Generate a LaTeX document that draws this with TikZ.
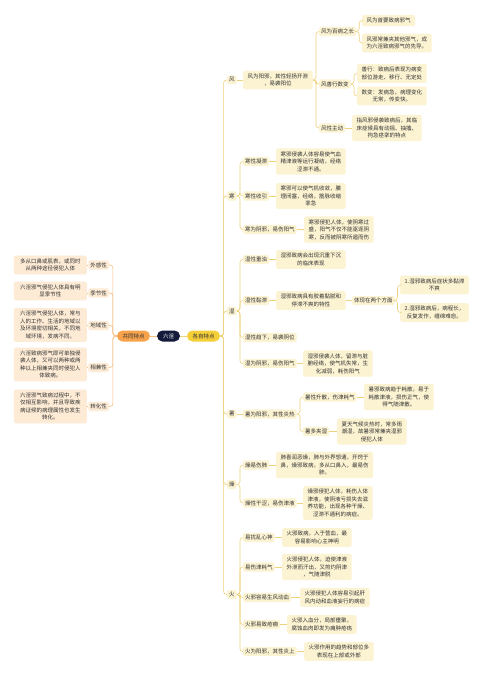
\documentclass[tikz,border=0pt]{standalone}
\usepackage{fontspec}
\setmainfont{Noto Sans CJK SC}
\usetikzlibrary{calc}
\definecolor{boxY}{HTML}{FCF3D2}
\definecolor{boxO}{HTML}{FDEBD5}
\definecolor{lineY}{HTML}{EFD27C}
\definecolor{lineO}{HTML}{F3BF82}
\definecolor{txt}{HTML}{333333}
\definecolor{orgF}{HTML}{F7A34B}
\definecolor{yelF}{HTML}{F5CF3A}
\definecolor{navF}{HTML}{131A3A}
\newcommand\fs{\fontsize{5.5}{7.5}\selectfont}
\tikzset{
  tb/.style={fill=boxY, rounded corners=1.5pt, inner xsep=4.5pt, inner ysep=3pt, align=center, font=\fs, text=txt, anchor=west},
  lb/.style={fill=boxY, rounded corners=1.5pt, inner xsep=2pt, inner ysep=2pt, font=\fs, text=txt, anchor=west},
  catb/.style={fill=boxY, rounded corners=1.5pt, inner sep=2pt, font=\fs, text=txt, anchor=west},
  ltb/.style={fill=boxO, rounded corners=1.5pt, inner xsep=3.5pt, inner ysep=3pt, align=center, font=\fs, text=txt, anchor=east, minimum width=73pt},
  llb/.style={fill=boxO, rounded corners=1.5pt, inner xsep=2pt, inner ysep=2pt, font=\fs, text=txt, anchor=east},
  pill/.style={rounded corners=5.5pt, minimum height=11pt, inner xsep=2pt, inner ysep=1pt, font=\fs},
  rl/.style={draw=lineY, line width=0.6pt, rounded corners=3pt},
  ol/.style={draw=lineO, line width=0.6pt, rounded corners=3pt},
}
\newcommand\tr[2]{\draw[rl] (#1.east) -- ($(#1.east)!0.5!(#1.east -| #2.west)$) |- (#2.west);}
\newcommand\sg[2]{\draw[rl] (#1.east) -- (#1.east -| #2.west);}
\newcommand\ltr[2]{\draw[ol] (#1.west) -- ($(#1.west)!0.5!(#1.west -| #2.east)$) |- (#2.east);}
\newcommand\lsg[2]{\draw[ol] (#1.west) -- (#1.west -| #2.east);}
\begin{document}
\begin{tikzpicture}[x=1pt,y=-1pt]
\useasboundingbox[fill=white] (0,0) rectangle (483,675);

% center
\node[pill, fill=orgF, text=txt, minimum width=33pt] (gt) at (133.5,336) {共同特点};
\node[pill, fill=navF, text=white, minimum width=23pt] (ly) at (168.5,336) {六淫};
\node[pill, fill=yelF, text=txt, minimum width=33pt] (gz) at (203.5,336) {各自特点};
\draw[ol] (ly.west) -- (gt.east);
\draw[rl] (ly.east) -- (gz.west);

% left side
\node[llb] (L1) at (109,265) {外感性};
\node[llb] (L2) at (109,293) {季节性};
\node[llb] (L3) at (109,325.5) {地域性};
\node[llb] (L4) at (109,367.5) {相兼性};
\node[llb] (L5) at (109,406.5) {转化性};
\node[ltb] (B1) at (87,265) {多从口鼻或肌表，或同时\\从两种途径侵犯人体};
\node[ltb] (B2) at (87,291) {六淫邪气侵犯人体具有明\\显季节性};
\node[ltb] (B3) at (87,325) {六淫邪气侵犯人体，常与\\人的工作、生活的地域以\\及环境密切相关，不同地\\域环境，发病不同。};
\node[ltb] (B4) at (87,364.5) {六淫致病邪气即可单独侵\\袭人体，又可以两种或两\\种以上相兼夹同时侵犯人\\体致病。};
\node[ltb] (B5) at (87,406.5) {六淫邪气致病过程中，不\\仅相互影响，并且导致疾\\病证候的病理属性也发生\\转化。};
\foreach \i in {1,...,5}{\ltr{gt}{L\i} \lsg{L\i}{B\i}}

% categories
\node[catb] (feng) at (227,80) {风};
\node[catb] (han) at (227,196) {寒};
\node[catb] (shi) at (227,311) {湿};
\node[catb] (shu) at (227,414) {暑};
\node[catb] (zao) at (227,484.5) {燥};
\node[catb] (huo) at (227,594.5) {火};
\foreach \c in {feng,han,shi,shu,zao,huo}{\tr{gz}{\c}}

% wind
\node[tb] (fA) at (243,80) {风为阳邪，其性轻扬开泄\\，易袭阳位};
\sg{feng}{fA}
\node[lb] (fA1) at (319,31.5) {风为百病之长};
\node[tb] (fA1a) at (362,20.5) {风为首要致病邪气};
\node[tb] (fA1b) at (362,43) {风邪常兼夹其他邪气，成\\为六淫致病邪气的先导。};
\node[lb] (fA2) at (319,84) {风善行数变};
\node[tb] (fA2a) at (357,73.5) {善行：致病后表现为病变\\部位游走、移行、无定处};
\node[tb] (fA2b) at (357,96) {数变：发病急，病理变化\\无常，传变快。};
\node[lb] (fA3) at (319,128) {风性主动};
\node[tb] (fA3a) at (352,128) {指风邪侵袭致病后，其临\\床症候具有动摇、抽搐、\\拘急痉挛的特点};
\tr{fA}{fA1} \tr{fA}{fA2} \tr{fA}{fA3}
\tr{fA1}{fA1a} \tr{fA1}{fA1b}
\tr{fA2}{fA2a} \tr{fA2}{fA2b}
\sg{fA3}{fA3a}

% cold
\node[lb] (hA) at (243,161.5) {寒性凝滞};
\node[tb] (hAa) at (276,161.5) {寒邪侵袭人体容易使气血\\精津液等运行凝结，经络\\涩滞不通。};
\node[lb] (hB) at (243,196) {寒性收引};
\node[tb] (hBa) at (276,196) {寒邪可以使气机收敛，腠\\理闭塞，经络，筋脉收缩\\挛急};
\node[lb] (hC) at (243,229.5) {寒为阴邪，易伤阳气};
\node[tb] (hCa) at (304,229.5) {寒邪侵犯人体，使阴寒过\\盛，阳气不仅不能驱逐阴\\寒，反而被阴寒所遏而伤};
\tr{han}{hA} \tr{han}{hB} \tr{han}{hC}
\sg{hA}{hAa} \sg{hB}{hBa} \sg{hC}{hCa}

% damp
\node[lb] (sA) at (243,259.5) {湿性重浊};
\node[tb] (sAa) at (276,259.5) {湿邪致病会出现沉重下沉\\的临床表现};
\node[lb] (sB) at (243,300.5) {湿性黏滞};
\node[tb] (sBa) at (276,300.5) {湿邪致病具有胶着黏腻和\\停滞不爽的特性};
\node[lb] (sBb) at (352,300.5) {体现在两个方面};
\node[tb] (sB1) at (400,285) {1.湿邪致病后症状多黏滞\\不爽};
\node[tb] (sB2) at (400,312.5) {2.湿邪致病后，病程长，\\反复发作，缠绵难愈。};
\node[lb] (sC) at (243,337.5) {湿性趋下，易袭阴位};
\node[lb] (sD) at (243,363.5) {湿为阴邪，易伤阳气};
\node[tb] (sDa) at (303,363.5) {湿邪侵袭人体，留滞与脏\\腑经络，使气机失常，生\\化减弱，耗伤阳气};
\tr{shi}{sA} \tr{shi}{sB} \tr{shi}{sC} \tr{shi}{sD}
\sg{sA}{sAa} \sg{sB}{sBa} \sg{sBa}{sBb}
\tr{sBb}{sB1} \tr{sBb}{sB2}
\sg{sD}{sDa}

% summer heat
\node[lb] (uA) at (243,414) {暑为阳邪，其性炎热};
\node[lb] (uA1) at (303,397) {暑性升散，伤津耗气};
\node[tb] (uA1a) at (364,397) {暑邪致病趋于耗散，易于\\耗散津液，损伤正气，使\\得气随津散。};
\node[lb] (uA2) at (303,431.5) {暑多夹湿};
\node[tb] (uA2a) at (337,431.5) {夏天气候炎热时，常多雨\\潮湿，故暑邪常兼夹湿邪\\侵犯人体};
\sg{shu}{uA}
\tr{uA}{uA1} \tr{uA}{uA2}
\sg{uA1}{uA1a} \sg{uA2}{uA2a}

% dryness
\node[lb] (zA) at (243,465) {燥易伤肺};
\node[tb] (zAa) at (276,465) {肺喜润恶燥，肺与外界想通，开窍于\\鼻，燥邪致病，多从口鼻入，最易伤\\肺。};
\node[lb] (zB) at (243,503) {燥性干涩，易伤津液};
\node[tb] (zBa) at (303,503) {燥邪侵犯人体，耗伤人体\\津液，使阴液亏损失去滋\\养功能，出现各种干燥、\\涩滞不通利的病症。};
\tr{zao}{zA} \tr{zao}{zB}
\sg{zA}{zAa} \sg{zB}{zBa}

% fire
\node[lb] (oA) at (243,537.5) {易扰乱心神};
\node[tb] (oAa) at (282,537.5) {火邪致病，入于营血，最\\容易影响心主神明};
\node[lb] (oB) at (243,567) {易伤津耗气};
\node[tb] (oBa) at (282,567) {火邪侵犯人体，迫使津液\\外泄而汗出，又煎灼阴津\\，气随津脱};
\node[lb] (oC) at (243,597.5) {火邪容易生风动血};
\node[tb] (oCa) at (300,597.5) {火邪侵犯人体容易引起肝\\风内动和血液妄行的病症};
\node[lb] (oD) at (243,624.5) {火邪易致疮痈};
\node[tb] (oDa) at (287,624.5) {火邪入血分，局部壅聚，\\腐蚀血肉即发为痈肿疮疡};
\node[lb] (oE) at (243,651.5) {火为阳邪，其性炎上};
\node[tb] (oEa) at (304,651.5) {火邪作用的趋势和部位多\\表现在上部或外部};
\foreach \c in {oA,oB,oC,oD,oE}{\tr{huo}{\c} \sg{\c}{\c a}}
\end{tikzpicture}
\end{document}
